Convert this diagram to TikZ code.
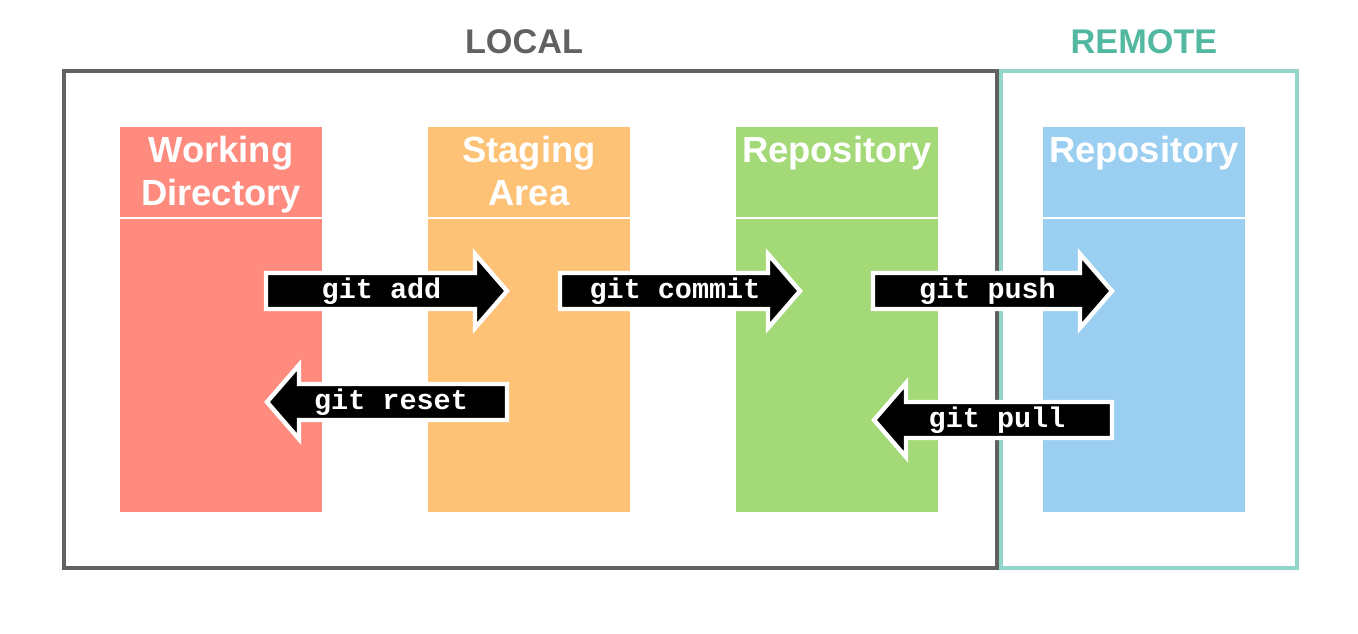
\documentclass[tikz,border=0pt]{standalone}
\usepackage{fontspec}
\setmainfont{Liberation Sans}
\newfontfamily\gitmono{Liberation Mono}
\definecolor{localgray}{HTML}{616161}
\definecolor{remoteteal}{HTML}{93D5CB}
\definecolor{remotetext}{HTML}{52B89F}
\definecolor{workred}{HTML}{FE8B7E}
\definecolor{stageorange}{HTML}{FDC276}
\definecolor{repogreen}{HTML}{A3D977}
\definecolor{remoteblue}{HTML}{9ACFF2}
\def\gitarrowR#1#2#3#4{% x1, tip, y, text
	\filldraw[black, draw=white, line width=2.5pt] (#1,#3-18) -- (#2-32,#3-18) -- (#2-32,#3-37) -- (#2,#3) -- (#2-32,#3+37) -- (#2-32,#3+18) -- (#1,#3+18) -- cycle;
	\node [cmd] at ({(#1+#2)/2-5},#3) {#4};}
\def\gitarrowL#1#2#3#4{% tip, x2, y, text
	\filldraw[black, draw=white, line width=2.5pt] (#2,#3-18) -- (#1+32,#3-18) -- (#1+32,#3-37) -- (#1,#3) -- (#1+32,#3+37) -- (#1+32,#3+18) -- (#2,#3+18) -- cycle;
	\node [cmd] at ({(#1+#2)/2+4},#3) {#4};}
\begin{document}
\begin{tikzpicture}[%
	x=0.02cm, y=-0.02cm,%
	head/.style ={white, font=\bfseries\fontsize{20.7}{24.4}\selectfont, align=center},%
	cmd/.style ={white, font=\gitmono\bfseries\fontsize{16.2}{18}\selectfont},%
	title/.style ={font=\bfseries\fontsize{19.5}{22}\selectfont},%
	]
	\useasboundingbox (0,0) rectangle (1358,633);
%%% frames
	\draw [localgray, line width=2.8pt] (64,71) rectangle (997,568);
	\draw [remoteteal, line width=2.8pt] (1001,71) rectangle (1297,568);
	\node [title, localgray] (local) at (524,42) {LOCAL};
	\node [title, remotetext] (remote) at (1144,42) {REMOTE};
%%% frames
%%% columns
	\foreach \x/\col/\name/\txt in {120/workred/work/{Working\\Directory},428/stageorange/stage/{Staging\\Area},736/repogreen/repo/Repository,1043/remoteblue/rrepo/Repository}
	{
		\fill [\col] (\x,127) rectangle (\x+202,512);
		\draw [white, line width=1.6pt] (\x,218) -- (\x+202,218);
		\node [head, anchor=north] (\name) at (\x+101,130) {\txt};
	}
%%% columns
%%% arrows
	\gitarrowR{266}{507}{291}{git add}
	\gitarrowR{560}{800}{291}{git commit}
	\gitarrowR{873}{1112}{291}{git push}
	\gitarrowL{267}{507}{402}{git reset}
	\gitarrowL{874}{1112}{420}{git pull}
%%% arrows
\end{tikzpicture}
\end{document}
